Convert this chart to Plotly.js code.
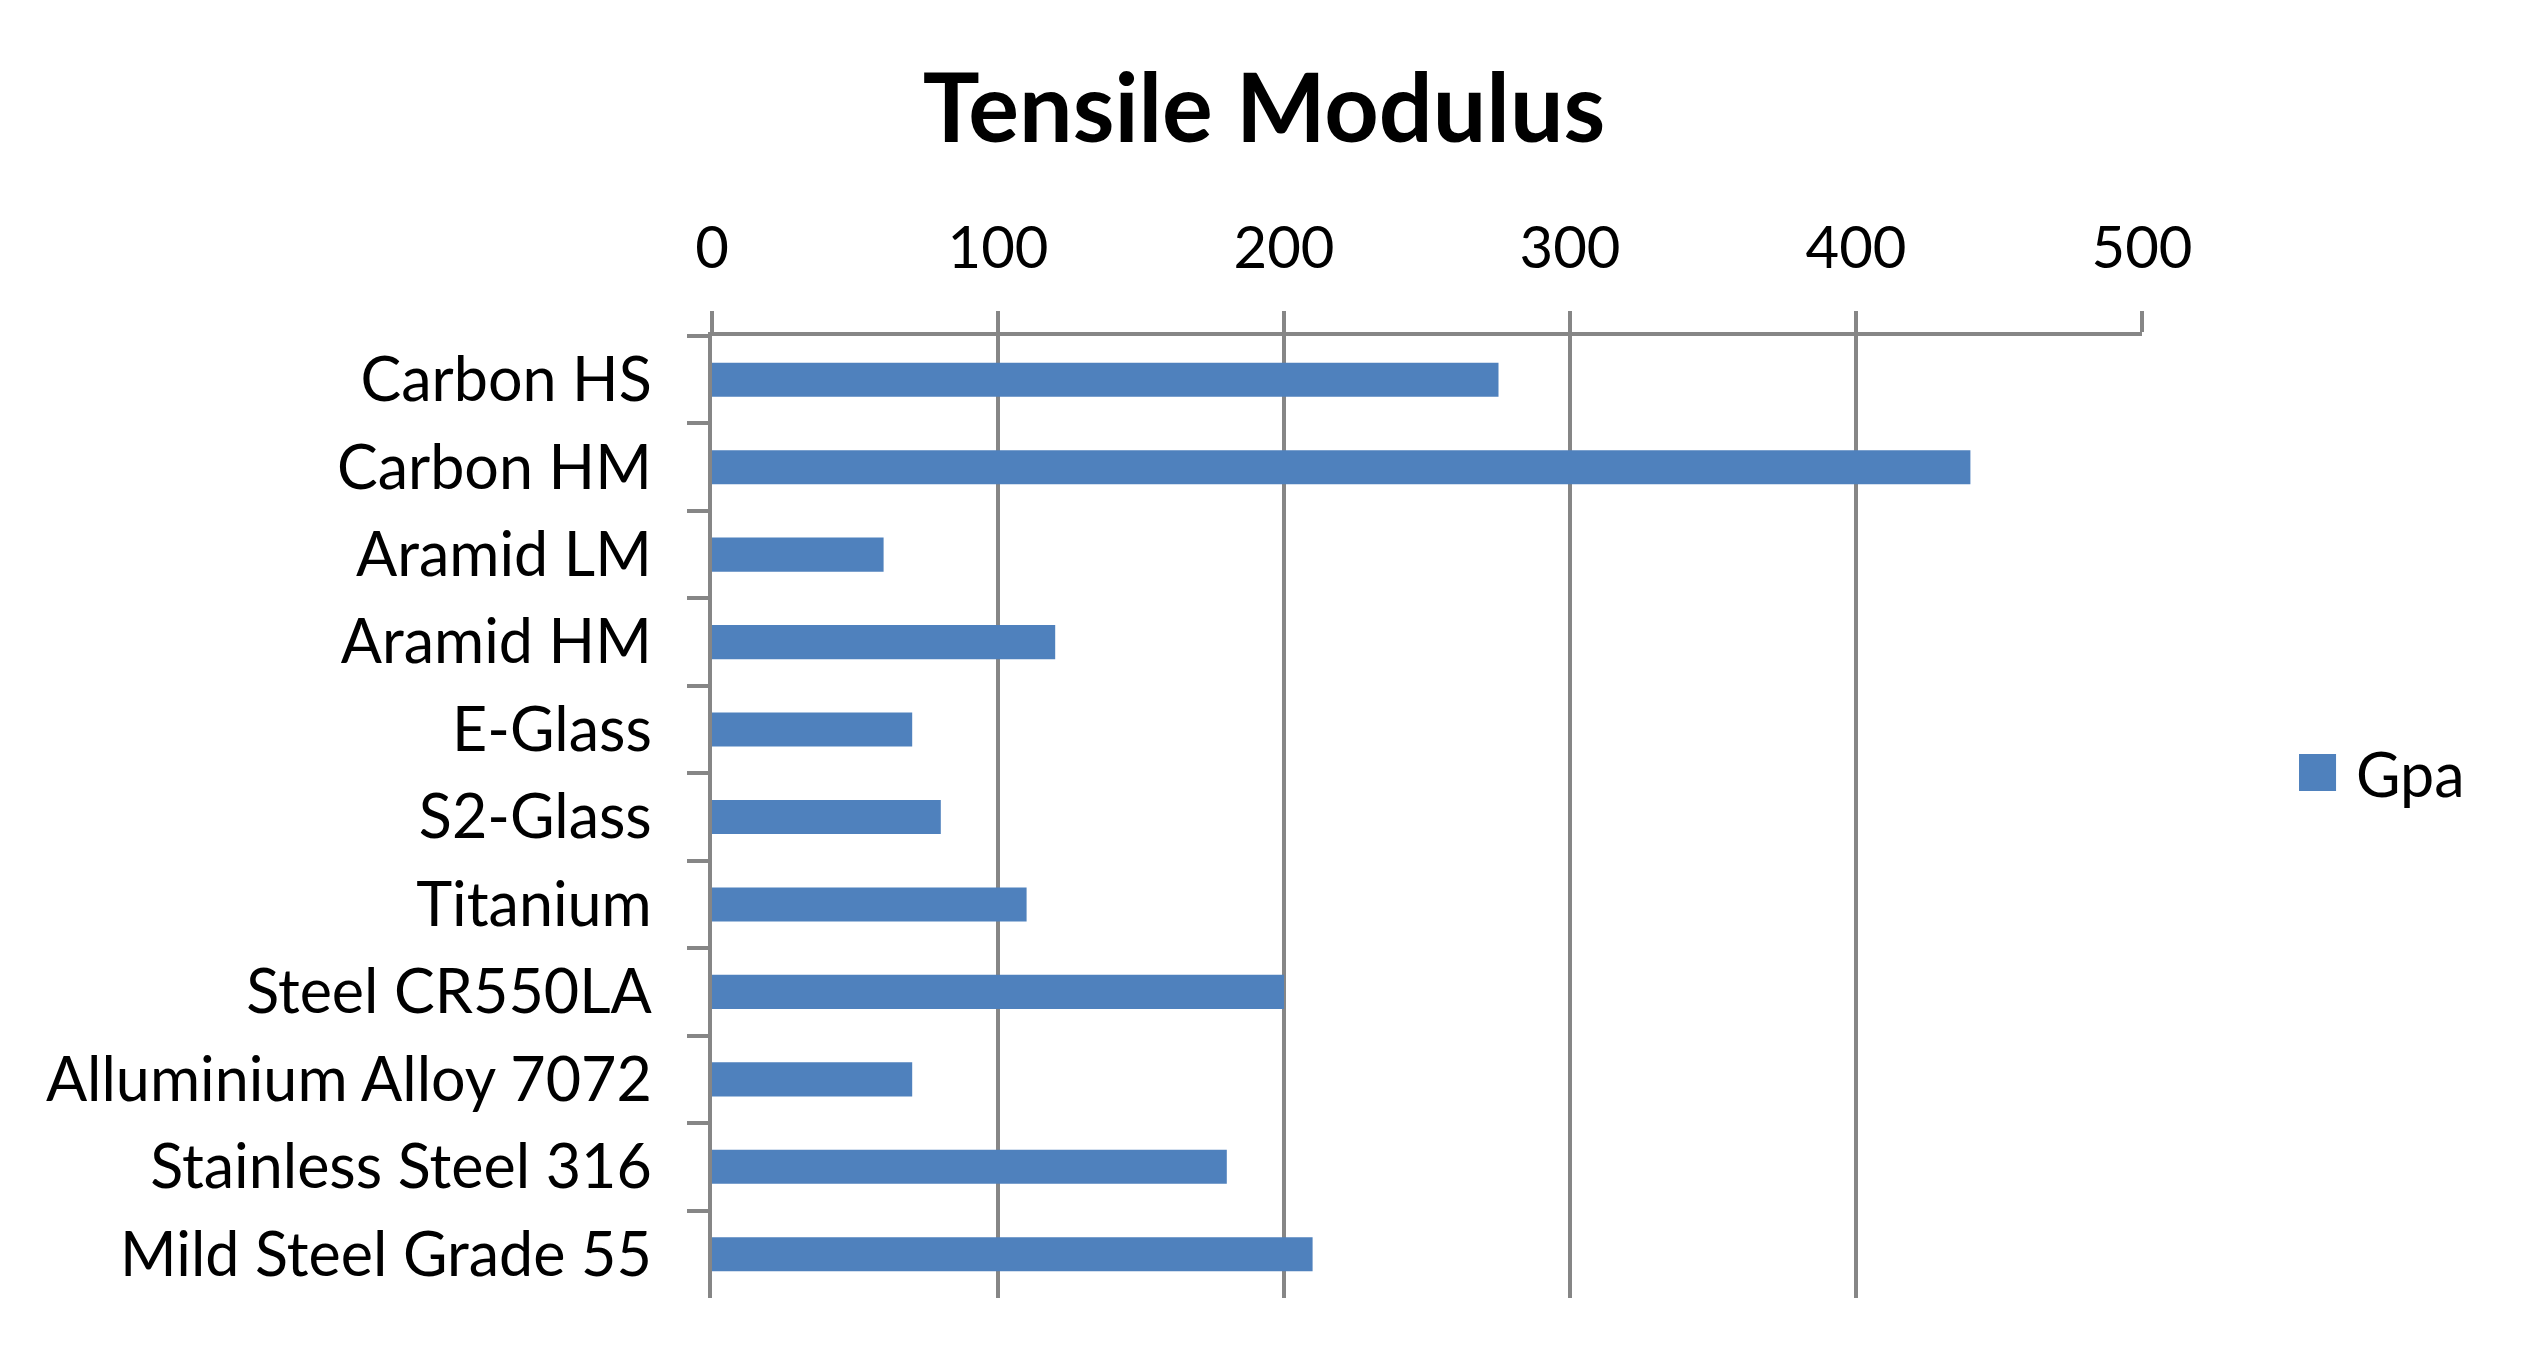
<!DOCTYPE html>
<html>
<head>
<meta charset="utf-8">
<script src="https://cdn.plot.ly/plotly-3.0.1.min.js"></script>
<style>html,body{margin:0;padding:0;background:#fff;}#chart{width:2524px;height:1372px;}</style>
</head>
<body>
<div id="chart"></div>
<script>
const categories = ["Carbon HS","Carbon HM","Aramid LM","Aramid HM","E-Glass","S2-Glass","Titanium","Steel CR550LA","Alluminium Alloy 7072","Stainless Steel 316","Mild Steel Grade 55"];
const gpaValues = [275, 440, 60, 120, 70, 80, 110, 200, 70, 180, 210];
const seriesName = "Gpa";
const chartTitle = "Tensile Modulus";
const xTickVals = [0, 100, 200, 300, 400, 500];

const grey = "#868686";
const barColor = "#4F81BD";
const font = "Lato, 'Open Sans', sans-serif";

const trace = {
  type: "bar",
  orientation: "h",
  y: categories,
  x: gpaValues,
  name: seriesName,
  marker: {color: barColor},
  showlegend: false,
  hoverinfo: "x+y"
};

const layout = {
  width: 2524,
  height: 1372,
  paper_bgcolor: "#fff",
  plot_bgcolor: "#fff",
  margin: {l: 712, r: 382, t: 336, b: 74},
  bargap: 0.61,
  title: {text: "<b>" + chartTitle + "</b>", font: {family: font, size: 95, color: "#000"}, x: 0.5008, xref: "container", xanchor: "center", y: 0.921, yanchor: "middle"},
  font: {family: font, size: 58, color: "#000"},
  xaxis: {
    side: "top",
    range: [0, 500],
    tickvals: xTickVals,
    ticktext: xTickVals.map(String),
    showgrid: true, gridcolor: grey, gridwidth: 4,
    showline: true, linecolor: grey, linewidth: 4,
    ticks: "outside", ticklen: 21, tickwidth: 4, tickcolor: grey,
    ticklabelstandoff: 20,
    zeroline: false,
    tickfont: {family: font, size: 58, color: "#000"},
    fixedrange: true
  },
  yaxis: {
    type: "category",
    autorange: "reversed",
    showline: true, linecolor: grey, linewidth: 4,
    ticks: "outside", ticklen: 21, tickwidth: 4, tickcolor: grey,
    tickson: "boundaries",
    showgrid: false,
    ticklabelstandoff: 44,
    tickfont: {family: font, size: 61, color: "#000"},
    fixedrange: true
  },
  showlegend: false,
  shapes: [
    {type: "rect", xref: "paper", yref: "paper", x0: 1.1098, x1: 1.1357, y0: 0.5270, y1: 0.5655, fillcolor: barColor, line: {width: 0}}
  ],
  annotations: [
    {text: seriesName, xref: "paper", yref: "paper", x: 1.148, y: 0.5457, xanchor: "left", yanchor: "middle", showarrow: false, font: {family: font, size: 61, color: "#000"}}
  ]
};

Plotly.newPlot("chart", [trace], layout, {displayModeBar: false, staticPlot: true});
</script>
</body>
</html>
